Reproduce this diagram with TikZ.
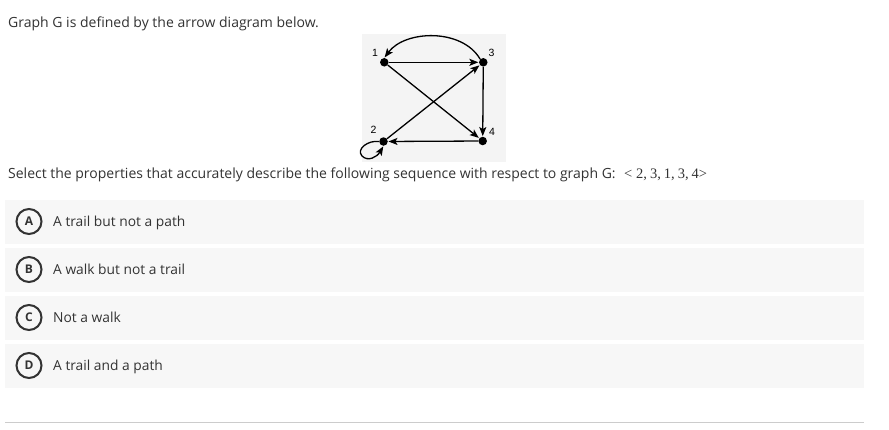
\documentclass[tikz,border=0pt]{standalone}
\usepackage{fontspec}
\setmainfont{Open Sans}
\newfontfamily\graphfont{Liberation Sans}
\newfontfamily\seqfont{Liberation Serif}
\usetikzlibrary{arrows.meta}
\definecolor{txt}{HTML}{333333}
\definecolor{optbg}{HTML}{F7F7F7}
\definecolor{figbg}{HTML}{F4F4F4}
\definecolor{rule}{HTML}{CCCCCC}
\tikzset{
  txtnode/.style={anchor=base west, inner sep=0pt, text=txt, font=\fontsize{13.8}{16}\selectfont},
  letter/.style={circle, draw=txt, line width=2pt, minimum size=25pt, inner sep=0pt, text=txt, font=\fontsize{12}{13}\selectfont\bfseries},
  vtx/.style={circle, fill=black, inner sep=0pt, minimum size=8.5pt},
  vlab/.style={inner sep=0pt, font=\graphfont\fontsize{10.5}{11}\selectfont},
  edge/.style={line width=1.3pt, -{Stealth[length=9pt,width=7pt,inset=2pt]}, shorten >=0.5pt}
}
\begin{document}
\begin{tikzpicture}[x=1pt,y=-1pt]
\useasboundingbox (0,0) rectangle (889,429);
\fill[white] (0,0) rectangle (889,429);
\node[txtnode, font=\fontsize{14}{16}\selectfont] (head) at (8,27) {Graph G is defined by the arrow diagram below.};
% figure
\fill[figbg] (362,34) rectangle (506,162);
\node[vtx] (v1) at (384.3,62.3) {};
\node[vtx] (v3) at (483.3,62.3) {};
\node[vtx] (v2) at (383.5,141.5) {};
\node[vtx] (v4) at (482.7,141) {};
\node[vlab] (l1) at (375,52.7) {1};
\node[vlab] (l3) at (491.5,53) {3};
\node[vlab] (l2) at (373.5,129.5) {2};
\node[vlab] (l4) at (492,132) {4};
\draw[edge] (v1) -- (v3);
\draw[edge] (v1) -- (v4);
\draw[edge] (v2) -- (v3);
\draw[edge] (v3) -- (v4);
\draw[edge] (v4) -- (v2);
\draw[edge] (v3.north west) .. controls (462,28) and (405,30) .. (v1.north);
\draw[edge] (v2.west) .. controls (368,140) and (356,149) .. (362,156) .. controls (368,162) and (377,157) .. (v2.south);
% question
\node[txtnode, font=\fontsize{14}{16}\selectfont] (q) at (8,178) {Select the properties that accurately describe the following sequence with respect to graph G:};
\node[anchor=base west, inner sep=0pt, text=txt, font=\seqfont\fontsize{14.5}{16}\selectfont] (seq) at ([xshift=8pt]q.base east) {<\hspace{4pt}2,\hspace{3pt}3,\hspace{3pt}1,\hspace{3pt}3,\hspace{3pt}4>};
% options
\fill[optbg] (5,200) rectangle (864,244);
\fill[optbg] (5,248) rectangle (864,292);
\fill[optbg] (5,296) rectangle (864,340);
\fill[optbg] (5,344) rectangle (864,388);
\node[letter] (cA) at (29,221.5) {A};
\node[letter] (cB) at (29,269.5) {B};
\node[letter] (cC) at (29,317.5) {C};
\node[letter] (cD) at (29,365.5) {D};
\node[txtnode] (tA) at (53,226.5) {A trail but not a path};
\node[txtnode] (tB) at (53,274.5) {A walk but not a trail};
\node[txtnode] (tC) at (53,322.5) {Not a walk};
\node[txtnode] (tD) at (53,370.5) {A trail and a path};
\draw[rule, line width=1.5pt] (5,422.5) -- (864,422.5);
\end{tikzpicture}
\end{document}
